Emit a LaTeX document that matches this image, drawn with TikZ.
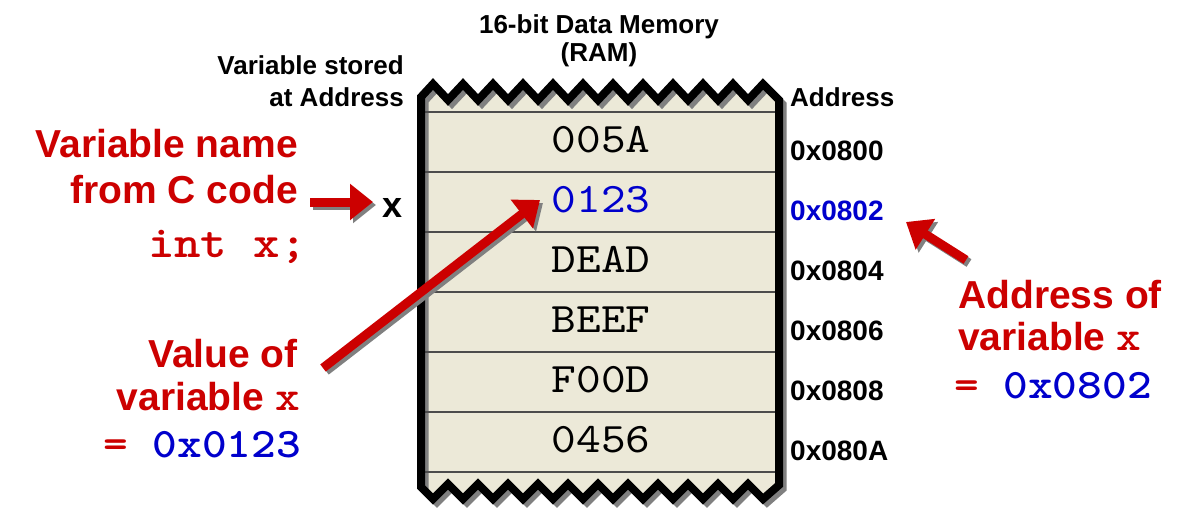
\documentclass[tikz,border=0pt]{standalone}
\usepackage{fontspec}
\setmainfont{Liberation Sans}
\newfontfamily\cour{lmmono10-regular}[Extension=.otf, FakeStretch=1.12, BoldFont=lmmonolt10-bold]
\usetikzlibrary{arrows.meta,positioning}

\definecolor{memred}{HTML}{CC0000}
\definecolor{memblue}{HTML}{0000CC}
\definecolor{membg}{HTML}{ECE9D8}

% outline of the torn memory strip
\newcommand{\ramedge}{(421,97)
  \foreach \k in {0,...,10}{-- ({433+30*\k},84) -- ({448+30*\k},100)}
  -- (763,84) -- (779,100) -- (779,485) -- (763,499)
  \foreach \k in {10,...,0}{-- ({448+30*\k},484) -- ({433+30*\k},499)}
  -- (421,487) -- cycle}

\tikzset{
  head/.style={font=\bfseries\fontsize{26}{31}\selectfont, inner sep=0pt},
  addr/.style={font=\bfseries\fontsize{28}{32}\selectfont, inner sep=0pt, anchor=base west},
  cell/.style={font=\cour\fontsize{42}{48}\selectfont, inner sep=0pt, anchor=base},
  note/.style={font=\bfseries\fontsize{39}{44}\selectfont, text=memred, inner sep=0pt},
  code/.style={font=\cour\bfseries\fontsize{42}{48}\selectfont, text=memred, inner sep=0pt},
  bigarrow/.style={memred, line width=9pt, -{Triangle[length=23pt,width=35pt]}},
  arrowshadow/.style={bigarrow, gray, transform canvas={shift={(3,3)}}}
}

\begin{document}
\begin{tikzpicture}[x=1pt, y=-1pt]
  \useasboundingbox (0,0) rectangle (1200,509);

  % memory strip
  \fill[membg] \ramedge;
  \draw[gray, line width=7pt, shift={(4,4)}] \ramedge;
  \foreach \y in {112,172,...,472}
    \draw[gray!60!black, line width=1.2pt] (425,\y) -- (775,\y);
  \draw[black, line width=8pt] \ramedge;

  % headings
  \node[head, anchor=base] (ttl) at (599,33) {16-bit Data Memory};
  \node[head, anchor=base] (ram) at (599,61) {(RAM)};
  \node[head, anchor=base east] (vs) at (404,74) {Variable stored};
  \node[head, anchor=base east] (ata) at (404,106) {at Address};
  \node[head, anchor=base west] (adr) at (790,106) {Address};

  % cells and addresses
  \foreach \v/\c [count=\i from 0] in {005A/black,0123/memblue,DEAD/black,BEEF/black,F00D/black,0456/black}
    \node[cell, text=\c] (v\i) at (601,{152+60*\i}) {\v};
  \foreach \a/\c [count=\i from 0] in {0800/black,0802/memblue,0804/black,0806/black,0808/black,080A/black}
    \node[addr, text=\c] (a\i) at (790,{160+60*\i}) {0x\a};

  % variable name
  \node[note, anchor=base east] (vn1) at (298,157) {Variable name};
  \node[note, anchor=base east] (vn2) at (298,203) {from C code};
  \node[code, anchor=base east, font=\cour\bfseries\fontsize{45}{50}\selectfont] (decl) at (307,257) {int x;};
  \node[font=\bfseries\fontsize{36}{40}\selectfont, inner sep=0pt, anchor=base] (xname) at (393,217) {x};

  % value of x
  \node[note, anchor=base east] (val1) at (298,367) {Value of};
  \node[note, anchor=base east] (val2) at (300,410) {variable {\cour\bfseries\fontsize{42}{48}\selectfont x}};
  \node[code, anchor=base east] (val3) at (301,457) {= \textcolor{memblue}{0x0123}};

  % address of x
  \node[note, anchor=base west] (ad1) at (958,308) {Address of};
  \node[note, anchor=base west] (ad2) at (958,350) {variable {\cour\bfseries\fontsize{42}{48}\selectfont x}};
  \node[code, anchor=base west] (ad3) at (954,398) {= \textcolor{memblue}{0x0802}};

  % arrows
  \coordinate (t1) at (310,202);
  \coordinate (h1) at (373,202);
  \coordinate (t2) at (323,368);
  \coordinate (h2) at (540,200);
  \coordinate (t3) at (966,260);
  \coordinate (h3) at (906,222);

  \draw[arrowshadow] (t1) -- (h1);
  \draw[bigarrow] (t1) -- (h1);
  \draw[arrowshadow] (t2) -- (h2);
  \draw[bigarrow] (t2) -- (h2);
  \draw[arrowshadow] (t3) -- (h3);
  \draw[bigarrow] (t3) -- (h3);
\end{tikzpicture}
\end{document}
